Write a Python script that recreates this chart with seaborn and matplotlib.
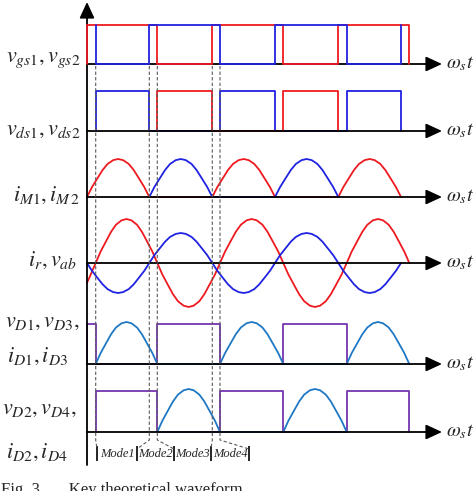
import matplotlib

matplotlib.use("Agg")
import matplotlib.pyplot as plt
import seaborn as sns

sns.set_style("white")
plt.rcParams["mathtext.fontset"] = "stix"
plt.rcParams["font.family"] = ["Liberation Serif", "DejaVu Serif"]

RED = "#ee1a20"
BLUE = "#1f22e0"
ARC_BLUE = "#1f78c4"
PURPLE = "#7436b0"

# time axis: t = 0 at the vertical axis, units
ROW_BASE = [64, 131, 197, 263, 364, 432]
ROW_LABELS = [
    (r"$v_{gs\mathrm{1}}, v_{gs\mathrm{2}}$", 80, 62),
    (r"$v_{ds\mathrm{1}}, v_{ds\mathrm{2}}$", 80, 135),
    (r"$i_{M\mathrm{1}}, i_{M\,\mathrm{2}}$", 80, 201),
    (r"$i_r, v_{ab}$", 77, 266),
    (r"$v_{D\mathrm{1}}, v_{D\mathrm{3}},$", 80, 327),
    (r"$i_{D\mathrm{1}}, i_{D\mathrm{3}}$", 68, 362),
    (r"$v_{D\mathrm{2}}, v_{D\mathrm{4}},$", 77, 414),
    (r"$i_{D\mathrm{2}}, i_{D\mathrm{4}}$", 68, 458),
]

# switching edges (row 1, 2, and the diode voltages)
VGS1_EDGES = [0.0, 70.3, 125.3, 196.3, 251.3, 322.3]     # red, starts low
VGS2_EDGES = [8.7, 62.3, 133.0, 188.0, 259.7, 314.0]     # blue, starts high
VDS1_EDGES = [8.7, 62.3, 133.0, 188.0, 259.7, 314.0]     # blue
VDS2_EDGES = [70.3, 125.3, 196.3, 251.3]                 # red
VD13_EDGES = [0.0, 8.7, 70.3, 133.0, 196.3, 259.7]       # purple
VD24_EDGES = [8.7, 70.3, 133.0, 196.3, 259.7, 322.3]     # purple

# half-wave arches (start, end)
IM1_ARCS = [(0.0, 62.3), (125.3, 188.0), (251.3, 314.0)]
IM2_ARCS = [(62.3, 125.3), (188.0, 251.3)]
ID13_ARCS = [(8.7, 70.3), (133.0, 196.3), (259.7, 322.3)]
ID24_ARCS = [(70.3, 133.0), (196.3, 259.7)]

# zero crossings of the resonant waveforms
IR_ZEROS = [8.7, 70.3, 133.0, 196.3, 259.7, 322.3]       # first lobe positive
IR_HEAD_T = [0.0, 3.0, 6.0]
IR_HEAD_V = [-0.45, -0.30, -0.14]
VAB_ZEROS = [0.0, 62.3, 125.3, 188.0, 251.3, 314.0]      # first lobe negative

# shape of one lobe, read from the arches
ARCH_X = [0, 0.08, 0.17, 0.25, 0.33, 0.42, 0.5, 0.58, 0.67, 0.75, 0.83, 0.92, 1]
ARCH_Y = [0, 0.26, 0.5, 0.71, 0.87, 0.97, 1, 0.97, 0.87, 0.71, 0.5, 0.26, 0]

# heights in px
H = dict(vgs=39, vds=40, im=38, ir=44, vab=30, vd13=40, id13=42, vd24=41, id24=43)

DASH_T = [8.7, 62.3, 70.3, 125.3, 133.0]
MODE_SEP = [10, 50, 87, 124, 162]
MODES = ["Mode1", "Mode2", "Mode3", "Mode4"]


def step_path(edges, start_high):
    t, v = [], []
    state = start_high
    for e in edges:
        t += [e, e]
        v += [float(state), float(not state)]
        state = not state
    return t, v


def lobes(zeros, first_sign):
    t, v = [], []
    sign = first_sign
    for a, b in zip(zeros[:-1], zeros[1:]):
        t += [a + (b - a) * x for x in ARCH_X]
        v += [sign * y for y in ARCH_Y]
        sign = -sign
    return t, v


def arches(spans):
    t, v = [], []
    for a, b in spans:
        t += [a + (b - a) * x for x in ARCH_X] + [None]
        v += list(ARCH_Y) + [None]
    return t[:-1], v[:-1]


def trace(ax, t, v, base, height, color, z=2, lw=1.3):
    xs = [x if x is not None else float("nan") for x in t]
    ys = [base - height * y if y is not None else float("nan") for y in v]
    sns.lineplot(x=xs, y=ys, sort=False, estimator=None, color=color,
                 linewidth=lw, ax=ax, zorder=z)


fig = plt.figure(figsize=(4.74, 4.91), dpi=100)
ax = fig.add_axes([0, 0, 1, 1])
ax.set_xlim(-87, 387)
ax.set_ylim(491, 0)
ax.axis("off")

# axes with arrow heads
arrow = dict(arrowstyle="-|>,head_length=0.65,head_width=0.3", mutation_scale=15,
             lw=1.3, color="black", shrinkA=0, shrinkB=0)
for base in ROW_BASE:
    ax.annotate("", xy=(355, base), xytext=(0, base), arrowprops=arrow, zorder=3)
    ax.text(359, base + 4, r"$\omega_s t$", fontsize=14.5, va="baseline", ha="left")
ax.annotate("", xy=(0, 2), xytext=(0, 465), arrowprops=arrow, zorder=3)

# row 1: gate signals
trace(ax, *step_path(VGS1_EDGES, False), ROW_BASE[0], H["vgs"], RED, z=4)
trace(ax, *step_path(VGS2_EDGES, True), ROW_BASE[0], H["vgs"], BLUE, z=4)
# row 2: drain-source voltages
trace(ax, *step_path(VDS1_EDGES, False), ROW_BASE[1], H["vds"], BLUE)
trace(ax, *step_path(VDS2_EDGES, False), ROW_BASE[1], H["vds"], RED)
# row 3: switch currents
trace(ax, *arches(IM1_ARCS), ROW_BASE[2], H["im"], RED)
trace(ax, *arches(IM2_ARCS), ROW_BASE[2], H["im"], BLUE)
# row 4: resonant current and bridge voltage
ir_t, ir_v = lobes(IR_ZEROS, 1)
trace(ax, IR_HEAD_T + ir_t, IR_HEAD_V + ir_v, ROW_BASE[3], H["ir"], RED)
trace(ax, *lobes(VAB_ZEROS, -1), ROW_BASE[3], H["vab"], BLUE)
# rows 5, 6: diodes
trace(ax, *step_path(VD13_EDGES, False), ROW_BASE[4], H["vd13"], PURPLE)
trace(ax, *arches(ID13_ARCS), ROW_BASE[4], H["id13"], ARC_BLUE)
trace(ax, *step_path(VD24_EDGES, False), ROW_BASE[5], H["vd24"], PURPLE)
trace(ax, *arches(ID24_ARCS), ROW_BASE[5], H["id24"], ARC_BLUE)

# dashed guides down to the mode brackets
for t0, sep in zip(DASH_T, MODE_SEP):
    ax.plot([t0, t0, sep], [ROW_BASE[0] + 2, 440, 449], color="#5a5a5a",
            lw=0.8, ls=(0, (3, 2)), zorder=5)
ax.vlines(MODE_SEP, 446, 461, color="black", lw=1.2)
for i, name in enumerate(MODES):
    ax.text((MODE_SEP[i] + MODE_SEP[i + 1]) / 2, 454, name, fontsize=9,
            style="italic", ha="center", va="center")

for text, right, y in ROW_LABELS:
    ax.text(right - 87, y, text, fontsize=16, ha="right", va="baseline")

ax.text(-86, 482, "Fig. 3       Key theoretical waveform", fontsize=12,
        ha="left", va="top")

fig.savefig("out.png", dpi=100)
